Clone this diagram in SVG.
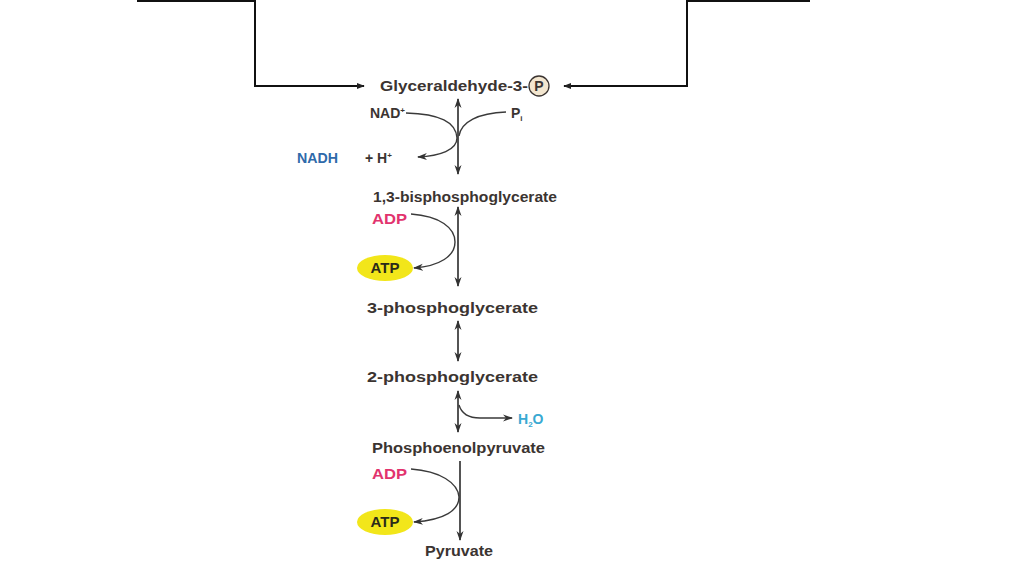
<svg xmlns="http://www.w3.org/2000/svg" width="1024" height="576" viewBox="0 0 1024 576">
<defs>
<marker id="ah" viewBox="0 0 10 10" refX="9" refY="5" markerWidth="8" markerHeight="8" markerUnits="userSpaceOnUse" orient="auto-start-reverse"><path d="M0,1 L10,5 L0,9 z" fill="#222"/></marker>
<marker id="ahs" viewBox="0 0 10 10" refX="9" refY="5" markerWidth="10" markerHeight="10" markerUnits="userSpaceOnUse" orient="auto-start-reverse"><path d="M0,1.5 L10,5 L0,8.5 L3,5 z" fill="#333"/></marker>
</defs>
<style>
.t{font-family:"Liberation Sans",Arial,sans-serif;font-weight:bold;font-size:14px;fill:#3b3431;}
.s{font-family:"Liberation Sans",Arial,sans-serif;font-weight:bold;font-size:14px;fill:#3b3431;}
.ln{fill:none;stroke:#111;stroke-width:2;}
.c{fill:none;stroke:#3a3a3a;stroke-width:1.4;}
.v{fill:none;stroke:#2a2a2a;stroke-width:1.6;}
.adp{font-family:"Liberation Sans",Arial,sans-serif;font-weight:bold;font-size:15px;fill:#e2336e;}
.atp{font-family:"Liberation Sans",Arial,sans-serif;font-weight:bold;font-size:15px;fill:#2a2a1a;}
</style>
<rect width="1024" height="576" fill="#fff"/>
<g id="connectors">
<path class="ln" d="M137,1 H255 V86 H364" marker-end="url(#ah)"/>
<path class="ln" d="M810,1 H687 V86 H564" marker-end="url(#ah)"/>
<path class="v" d="M458,174 V99" marker-start="url(#ahs)" marker-end="url(#ahs)"/>
<path class="c" d="M406,113 C440,114 456,122 457,138 C457,150 440,156 418,157" marker-end="url(#ahs)"/>
<path class="c" d="M506,112 C478,113 461,122 459,136"/>
<path class="v" d="M458,286 V207" marker-start="url(#ahs)" marker-end="url(#ahs)"/>
<path class="c" d="M411,214 C440,216 455,228 455,242 C455,256 440,266 414,268" marker-end="url(#ahs)"/>
<path class="v" d="M458,361 V321" marker-start="url(#ahs)" marker-end="url(#ahs)"/>
<path class="v" d="M458,432 V391" marker-start="url(#ahs)" marker-end="url(#ahs)"/>
<path class="c" d="M459,405 C462,415 470,418 480,418 H512" marker-end="url(#ahs)"/>
<path class="v" d="M460,461 V540" marker-end="url(#ahs)"/>
<path class="c" d="M411,469 C440,471 458,483 459,497 C459,510 445,520 414,522" marker-end="url(#ahs)"/>
</g>
<g id="g3p"><text class="t" x="380" y="91" textLength="148" lengthAdjust="spacingAndGlyphs">Glyceraldehyde-3-</text>
<circle cx="539" cy="86" r="10" fill="#f3e6cf" stroke="#3b3431" stroke-width="1.3"/>
<text class="s" x="539" y="91" text-anchor="middle">P</text></g>
<g id="nad"><text class="s" x="370" y="118">NAD<tspan font-size="8" dy="-5">+</tspan></text></g>
<g id="pi"><text class="s" x="511" y="118">P<tspan font-size="8" dy="3">i</tspan></text></g>
<g id="nadh"><text class="s" x="297" y="163" style="fill:#2f6aaa" textLength="41" lengthAdjust="spacingAndGlyphs">NADH</text></g>
<g id="h"><text class="s" x="365" y="163">+ H<tspan font-size="8" dy="-5">+</tspan></text></g>
<g id="bpg"><text class="t" x="373" y="202" textLength="184" lengthAdjust="spacingAndGlyphs">1,3-bisphosphoglycerate</text></g>
<g id="adp1"><text class="adp" x="372" y="224" textLength="35" lengthAdjust="spacingAndGlyphs">ADP</text></g>
<g id="atp1"><ellipse cx="385" cy="268" rx="28" ry="13" fill="#f2e61a"/><text class="atp" x="385" y="273" text-anchor="middle">ATP</text></g>
<g id="pg3"><text class="t" x="367" y="313" textLength="171" lengthAdjust="spacingAndGlyphs">3-phosphoglycerate</text></g>
<g id="pg2"><text class="t" x="367" y="382" textLength="171" lengthAdjust="spacingAndGlyphs">2-phosphoglycerate</text></g>
<g id="h2o"><text class="s" x="518" y="424" style="fill:#3aa9d2">H<tspan font-size="8" dy="3">2</tspan><tspan dy="-3">O</tspan></text></g>
<g id="pep"><text class="t" x="372" y="453" textLength="173" lengthAdjust="spacingAndGlyphs">Phosphoenolpyruvate</text></g>
<g id="adp2"><text class="adp" x="372" y="479" textLength="35" lengthAdjust="spacingAndGlyphs">ADP</text></g>
<g id="atp2"><ellipse cx="385" cy="522" rx="28" ry="13" fill="#f2e61a"/><text class="atp" x="385" y="527" text-anchor="middle">ATP</text></g>
<g id="pyr"><text class="t" x="425" y="556" textLength="68" lengthAdjust="spacingAndGlyphs">Pyruvate</text></g>
</svg>
